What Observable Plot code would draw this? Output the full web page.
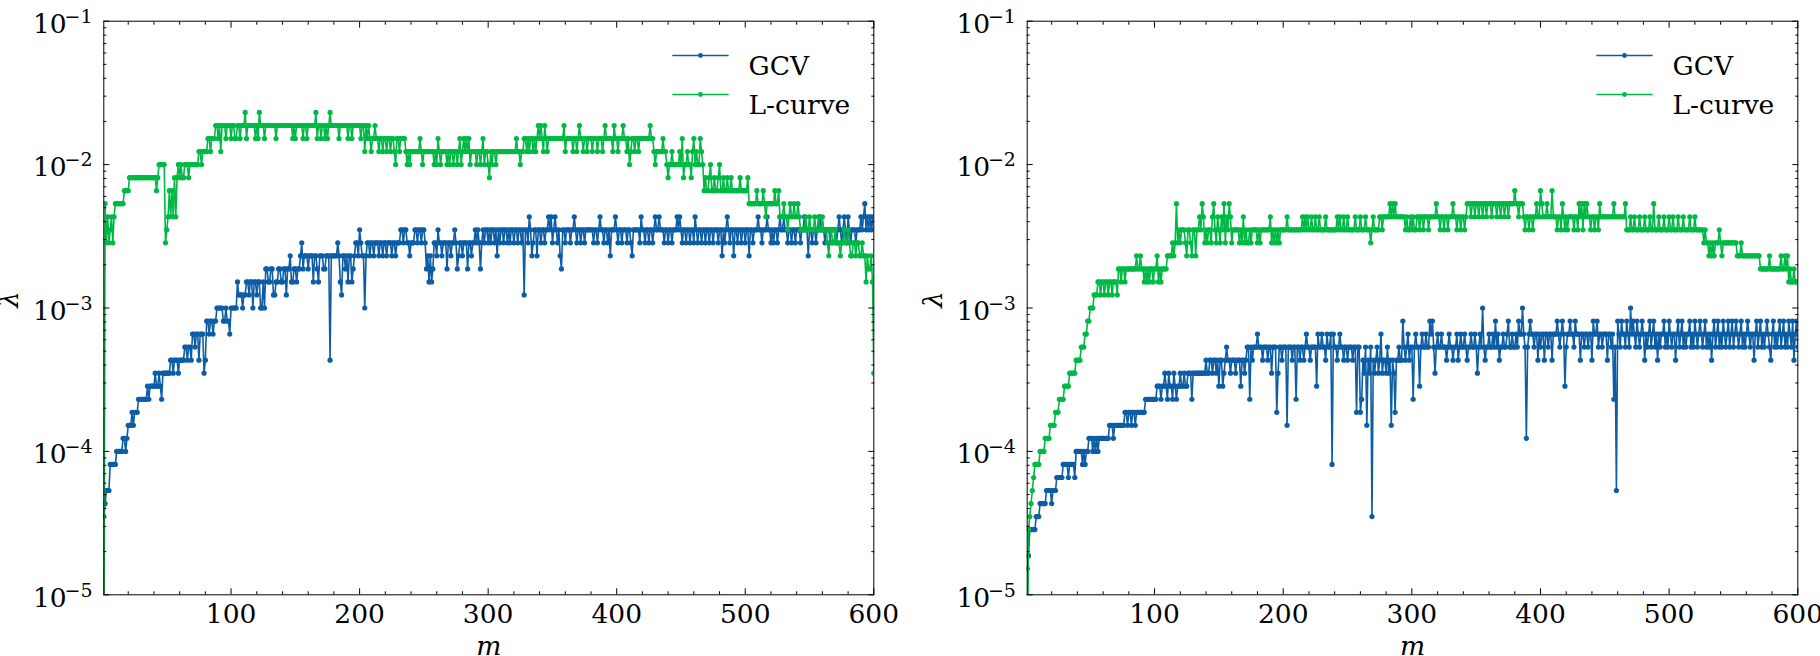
<!DOCTYPE html>
<html>
<head>
<meta charset="utf-8">
<script src="https://cdn.jsdelivr.net/npm/d3@7"></script>
<script src="https://cdn.jsdelivr.net/npm/@observablehq/plot@0.6"></script>
<style>
  html, body { margin: 0; padding: 0; background: #fff; }
  #figure { position: relative; width: 1820px; height: 656px; overflow: hidden; background: #fff; }
  .panel { position: absolute; top: 0; }
</style>
</head>
<body>
<div id="figure"></div>
<script>
// Regularisation parameter λ chosen by GCV and by the L-curve for m = 1..600 samples.
// Every chosen λ sits on the same logarithmic grid (11 values per decade).
const mCount = 600;
const lambdaLevels = [
  1.000e-5, 1.233e-5, 1.520e-5, 1.874e-5, 2.310e-5, 2.848e-5, 3.511e-5, 4.329e-5, 5.337e-5, 6.579e-5, 8.111e-5,
  1.000e-4, 1.233e-4, 1.520e-4, 1.874e-4, 2.310e-4, 2.848e-4, 3.511e-4, 4.329e-4, 5.337e-4, 6.579e-4, 8.111e-4,
  1.000e-3, 1.233e-3, 1.520e-3, 1.874e-3, 2.310e-3, 2.848e-3, 3.511e-3, 4.329e-3, 5.337e-3, 6.579e-3, 8.111e-3,
  1.000e-2, 1.233e-2, 1.520e-2, 1.874e-2, 2.310e-2, 2.848e-2, 3.511e-2, 4.329e-2, 5.337e-2, 6.579e-2, 8.111e-2,
  1.000e-1
];
// the L-curve pick for m = 1 falls below the plotted range
const belowRange = 1e-6;

// Each series: [m where a new value starts, index into lambdaLevels]
const gcvLeftSteps = [[1,6],[2,7],[3,8],[6,10],[11,11],[16,12],[18,11],[19,12],[20,13],[23,14],[24,13],[25,14],[28,15],[35,16],[36,15],[37,16],[41,17],[42,16],[44,17],[45,16],[46,15],[47,17],[53,18],[55,17],[56,18],[59,17],[60,18],[64,19],[66,18],[67,19],[69,18],[70,20],[72,19],[73,20],[75,18],[76,20],[79,17],[80,18],[81,21],[83,20],[84,21],[86,20],[87,21],[89,22],[94,21],[96,22],[97,21],[99,20],[100,22],[105,24],[106,23],[109,22],[110,23],[112,24],[114,23],[115,24],[117,22],[118,24],[120,23],[121,24],[123,22],[125,24],[126,22],[127,25],[129,24],[131,25],[133,23],[135,24],[137,25],[139,24],[141,25],[143,23],[144,25],[146,26],[147,24],[149,25],[151,24],[152,25],[154,26],[155,27],[156,25],[157,26],[160,25],[161,26],[164,24],[165,26],[167,25],[168,24],[169,26],[172,25],[174,26],[177,18],[178,26],[183,27],[184,26],[185,24],[186,23],[187,26],[189,25],[190,26],[191,24],[192,26],[194,24],[195,25],[196,26],[197,27],[199,26],[200,28],[201,27],[202,26],[204,22],[205,26],[206,27],[208,26],[209,27],[211,26],[212,27],[215,26],[216,27],[218,26],[219,27],[221,26],[222,27],[225,26],[226,27],[228,26],[229,27],[232,28],[234,27],[235,28],[237,27],[239,26],[240,27],[243,28],[245,27],[246,28],[248,27],[249,28],[251,27],[252,25],[253,26],[254,24],[255,26],[256,24],[257,25],[258,27],[260,26],[261,28],[262,27],[264,26],[265,27],[268,25],[269,27],[271,26],[272,27],[274,28],[275,27],[276,25],[277,26],[278,27],[280,26],[281,27],[284,25],[285,27],[287,26],[288,27],[290,28],[291,27],[292,28],[293,27],[294,25],[295,27],[296,28],[297,27],[298,28],[300,27],[301,28],[302,27],[303,28],[305,27],[306,28],[307,26],[308,28],[309,27],[310,28],[312,27],[313,28],[315,27],[316,28],[317,27],[318,28],[320,27],[321,28],[323,27],[324,28],[326,27],[327,28],[328,23],[329,28],[331,27],[332,29],[333,28],[334,26],[335,27],[336,28],[338,26],[339,28],[341,27],[342,28],[344,27],[345,28],[347,29],[348,28],[349,29],[350,27],[351,28],[352,29],[353,28],[354,27],[355,28],[356,26],[357,25],[358,28],[360,27],[361,28],[364,27],[365,28],[367,29],[368,28],[369,27],[370,28],[372,27],[373,28],[375,27],[376,28],[382,27],[383,28],[385,27],[386,28],[387,29],[388,28],[390,27],[391,28],[393,27],[394,28],[395,26],[396,28],[399,29],[400,28],[401,27],[402,28],[404,27],[405,28],[408,27],[409,28],[411,27],[412,26],[413,28],[418,27],[419,29],[420,28],[422,27],[423,28],[425,27],[426,28],[428,27],[429,28],[430,29],[431,28],[433,29],[434,28],[437,27],[438,28],[440,27],[441,28],[443,27],[444,28],[447,29],[448,28],[449,29],[450,28],[451,27],[452,28],[454,27],[455,28],[457,27],[458,28],[460,27],[461,29],[462,28],[463,27],[464,28],[466,27],[467,28],[469,27],[470,28],[472,27],[473,28],[475,27],[476,28],[479,27],[480,28],[482,26],[483,28],[484,27],[485,28],[486,29],[487,28],[488,27],[489,28],[491,26],[492,28],[494,27],[495,28],[497,27],[498,28],[500,27],[501,28],[503,26],[504,28],[506,27],[507,28],[510,29],[511,28],[513,27],[514,28],[517,29],[518,28],[520,27],[521,28],[522,27],[523,28],[525,27],[526,28],[527,29],[528,28],[530,29],[531,28],[533,27],[534,28],[536,27],[537,28],[539,27],[540,28],[543,27],[544,28],[546,29],[547,28],[549,26],[550,28],[552,27],[553,28],[555,27],[556,28],[558,29],[559,28],[562,27],[563,28],[566,27],[567,28],[571,27],[572,28],[573,29],[574,28],[575,27],[576,28],[577,29],[578,28],[579,27],[580,29],[581,28],[582,27],[583,28],[586,27],[587,28],[590,29],[591,28],[592,29],[593,30],[594,28],[595,29],[596,28],[597,29],[598,28],[599,29],[600,28]];

const lcurveLeftSteps = [[1,null],[2,30],[3,27],[4,29],[5,27],[6,28],[7,29],[8,27],[9,29],[10,30],[17,31],[21,32],[42,31],[43,32],[44,33],[49,27],[50,28],[51,29],[52,31],[53,29],[54,31],[55,29],[56,32],[57,29],[58,32],[59,33],[60,32],[61,33],[62,32],[64,33],[67,32],[68,33],[75,34],[77,33],[78,34],[82,35],[84,34],[85,35],[88,36],[90,35],[91,36],[92,34],[93,36],[96,35],[97,36],[100,35],[101,36],[103,35],[105,36],[107,35],[108,36],[111,37],[112,35],[113,36],[119,35],[120,36],[121,35],[122,37],[123,36],[126,35],[127,36],[135,35],[136,36],[148,35],[149,36],[150,35],[151,36],[156,35],[157,36],[159,35],[160,36],[166,37],[167,35],[168,36],[170,35],[171,36],[173,35],[174,36],[175,35],[176,36],[177,37],[178,36],[184,35],[185,36],[191,35],[192,36],[194,35],[195,36],[201,35],[202,36],[204,34],[205,36],[206,35],[207,36],[208,35],[209,34],[210,35],[212,36],[213,35],[215,34],[216,35],[218,34],[219,35],[221,34],[222,35],[224,34],[225,35],[227,34],[228,33],[229,35],[231,34],[232,35],[236,34],[237,33],[238,34],[239,33],[240,34],[247,35],[248,34],[249,33],[250,34],[258,33],[259,34],[260,33],[261,35],[262,34],[263,33],[264,34],[268,33],[269,34],[270,33],[271,34],[273,33],[274,34],[276,33],[277,34],[278,35],[279,33],[280,34],[281,35],[282,34],[283,35],[284,34],[285,35],[286,33],[287,34],[291,33],[292,34],[294,33],[295,34],[296,35],[297,33],[298,34],[300,33],[301,32],[302,34],[303,33],[304,34],[306,33],[307,34],[322,35],[323,34],[325,33],[326,34],[328,35],[330,34],[331,35],[332,34],[333,35],[335,34],[336,35],[337,34],[338,35],[339,36],[340,35],[341,36],[342,35],[343,34],[344,36],[345,35],[346,34],[347,35],[359,36],[360,34],[361,35],[366,34],[367,35],[369,34],[370,35],[371,36],[372,35],[374,34],[375,35],[377,34],[378,35],[381,34],[382,35],[385,34],[386,35],[389,34],[390,35],[391,36],[392,35],[397,34],[398,36],[399,35],[401,34],[402,35],[405,36],[406,35],[408,34],[409,35],[410,33],[411,34],[412,35],[414,34],[415,35],[417,34],[418,35],[426,36],[427,35],[429,34],[430,33],[431,34],[436,35],[437,34],[439,33],[440,32],[441,33],[443,34],[444,33],[449,34],[450,33],[451,35],[452,32],[453,33],[455,34],[456,33],[458,32],[459,34],[460,35],[461,33],[462,34],[463,33],[465,35],[466,34],[467,33],[468,31],[469,32],[470,31],[472,32],[473,33],[474,31],[476,32],[477,31],[479,32],[480,33],[481,31],[483,32],[484,31],[486,32],[487,31],[489,32],[490,31],[496,32],[497,31],[502,32],[503,30],[509,31],[510,30],[514,31],[515,30],[516,29],[517,30],[523,31],[524,30],[526,31],[527,29],[530,30],[531,29],[533,28],[534,29],[535,30],[536,29],[538,30],[539,29],[541,30],[542,29],[543,28],[547,29],[548,28],[550,29],[551,28],[554,29],[555,28],[557,29],[558,28],[560,29],[561,28],[564,27],[565,26],[566,28],[568,27],[570,28],[571,27],[574,26],[575,27],[577,28],[578,27],[580,28],[581,27],[582,26],[584,27],[586,26],[587,27],[589,26],[591,27],[592,26],[594,24],[595,26],[596,25],[598,26],[599,24],[600,17]];

const gcvRightSteps = [[1,2],[2,3],[3,5],[8,6],[11,7],[16,8],[20,7],[21,8],[24,9],[29,10],[33,9],[34,10],[38,9],[39,11],[44,10],[45,11],[46,10],[47,11],[49,12],[52,11],[53,12],[54,11],[55,12],[56,11],[57,12],[65,13],[68,12],[69,13],[77,14],[79,13],[80,14],[82,13],[83,14],[85,13],[86,14],[93,15],[102,16],[105,15],[106,16],[108,17],[109,16],[110,15],[111,17],[112,16],[114,15],[115,17],[116,16],[117,15],[118,16],[120,17],[121,16],[123,17],[124,16],[126,17],[129,15],[130,17],[140,18],[141,17],[143,18],[145,17],[146,18],[148,17],[149,18],[150,16],[151,18],[153,16],[154,17],[155,18],[156,19],[157,18],[159,17],[160,18],[163,17],[164,18],[167,16],[168,18],[170,17],[171,18],[172,19],[174,15],[175,19],[176,18],[177,19],[180,20],[181,19],[184,18],[185,19],[188,18],[189,19],[191,17],[192,19],[195,14],[196,17],[197,19],[199,18],[200,19],[203,13],[204,19],[207,18],[208,19],[210,15],[211,19],[213,18],[214,19],[216,18],[217,19],[218,20],[219,19],[221,18],[222,19],[226,16],[227,20],[228,19],[230,20],[231,19],[233,18],[234,20],[235,19],[237,20],[238,10],[239,20],[240,19],[242,18],[243,19],[244,20],[245,19],[247,18],[248,19],[250,18],[251,19],[254,18],[255,19],[257,14],[258,19],[260,14],[261,15],[262,18],[263,17],[264,19],[265,13],[266,18],[267,17],[268,19],[269,6],[270,18],[271,17],[272,18],[273,19],[274,17],[275,18],[276,20],[277,17],[278,18],[280,17],[281,19],[282,17],[283,18],[284,13],[285,18],[286,17],[287,14],[288,18],[290,19],[291,18],[293,21],[294,19],[295,18],[296,19],[297,20],[298,18],[299,19],[301,15],[302,19],[303,20],[304,19],[306,16],[307,19],[308,20],[309,19],[311,20],[312,19],[314,21],[315,20],[316,21],[317,19],[318,17],[319,19],[320,20],[321,19],[323,20],[324,19],[327,18],[328,19],[329,20],[330,19],[332,18],[333,19],[335,20],[336,18],[337,19],[338,20],[339,19],[341,20],[342,19],[343,18],[344,19],[346,20],[347,19],[349,20],[350,19],[351,17],[352,19],[353,20],[354,19],[355,22],[356,19],[357,18],[358,19],[360,20],[361,19],[363,20],[364,19],[365,21],[366,19],[367,20],[368,18],[369,19],[371,20],[372,19],[374,20],[375,21],[376,19],[378,20],[379,19],[381,20],[382,19],[383,21],[384,20],[386,22],[387,20],[388,19],[389,12],[390,19],[391,20],[392,21],[393,20],[395,19],[396,20],[398,18],[399,20],[400,19],[401,20],[403,18],[404,20],[406,19],[407,20],[409,18],[410,20],[413,21],[414,20],[415,19],[416,20],[417,21],[418,20],[419,16],[420,19],[421,20],[423,21],[424,20],[426,19],[427,21],[428,20],[431,18],[432,20],[434,19],[435,20],[437,19],[438,20],[440,18],[441,21],[442,20],[444,21],[445,19],[446,20],[448,19],[449,20],[452,18],[453,20],[455,19],[456,20],[457,15],[458,19],[459,8],[460,21],[461,20],[462,19],[463,21],[464,20],[466,19],[467,21],[468,20],[469,19],[470,22],[471,20],[472,21],[473,20],[474,19],[475,21],[476,20],[477,19],[478,20],[479,21],[480,20],[481,18],[482,20],[483,19],[484,20],[485,21],[486,19],[487,20],[488,21],[489,19],[490,20],[491,18],[492,20],[493,19],[494,20],[496,21],[497,19],[498,20],[499,19],[500,21],[501,20],[502,19],[503,20],[505,18],[506,20],[507,21],[508,19],[509,20],[510,21],[511,19],[512,20],[513,19],[514,20],[516,21],[517,19],[518,20],[519,19],[520,21],[521,20],[522,19],[523,20],[524,21],[525,20],[526,19],[527,20],[528,21],[529,19],[530,20],[531,19],[532,20],[533,18],[534,20],[535,21],[536,19],[537,20],[538,21],[539,19],[540,20],[541,19],[542,21],[543,20],[544,19],[545,20],[546,21],[547,19],[548,20],[549,21],[550,19],[551,20],[552,21],[553,20],[554,19],[555,20],[556,21],[557,19],[558,20],[559,19],[560,20],[561,21],[562,20],[563,19],[564,20],[566,18],[567,20],[568,21],[569,19],[570,20],[571,21],[572,19],[573,20],[574,19],[575,20],[576,21],[577,20],[578,19],[579,18],[580,20],[581,21],[582,19],[583,20],[584,19],[585,20],[586,21],[587,19],[588,20],[589,21],[590,19],[591,20],[592,19],[593,21],[594,20],[595,19],[596,21],[597,18],[598,20],[599,21],[600,19]];

const lcurveRightSteps = [[1,null],[2,5],[3,6],[4,7],[5,8],[6,9],[7,10],[11,11],[15,12],[19,13],[23,14],[26,15],[30,16],[34,17],[39,18],[43,19],[46,20],[48,21],[50,22],[53,23],[56,24],[58,23],[59,24],[61,23],[62,24],[64,23],[65,24],[67,23],[68,24],[71,23],[72,25],[74,24],[75,25],[77,24],[78,25],[86,26],[87,25],[89,26],[90,25],[92,24],[93,25],[94,24],[95,25],[96,24],[97,25],[99,24],[100,25],[102,26],[103,24],[104,25],[105,24],[106,25],[110,26],[114,27],[115,26],[116,27],[117,30],[118,27],[119,28],[120,27],[121,28],[124,27],[125,26],[126,28],[128,27],[129,26],[130,28],[132,26],[133,28],[135,29],[136,28],[137,30],[138,29],[139,27],[140,28],[141,27],[142,28],[144,27],[145,29],[146,30],[147,28],[148,27],[149,29],[150,28],[151,27],[152,29],[153,28],[154,30],[155,27],[156,29],[157,28],[158,30],[159,29],[160,27],[161,28],[166,27],[167,28],[168,27],[169,29],[170,27],[171,28],[172,27],[174,28],[175,27],[176,28],[180,27],[181,28],[182,27],[183,28],[190,29],[191,27],[192,28],[193,27],[194,28],[195,27],[196,28],[197,27],[198,28],[203,29],[204,28],[215,29],[216,28],[217,29],[218,28],[219,29],[220,28],[222,29],[223,28],[225,29],[226,28],[228,29],[229,28],[233,29],[234,28],[242,29],[243,28],[244,29],[245,28],[247,29],[248,28],[250,29],[251,28],[256,29],[257,28],[260,29],[261,28],[264,29],[265,28],[268,27],[269,28],[270,29],[271,28],[275,29],[277,28],[278,29],[283,30],[284,29],[285,30],[286,29],[287,30],[288,29],[295,28],[296,29],[297,28],[299,29],[300,28],[301,29],[302,28],[304,29],[306,28],[307,29],[309,28],[310,29],[313,28],[314,29],[319,30],[320,29],[322,28],[323,29],[325,28],[326,29],[328,28],[329,29],[332,30],[333,29],[335,28],[336,29],[338,28],[339,29],[341,28],[342,29],[343,30],[346,29],[347,30],[349,29],[350,30],[352,29],[353,30],[355,29],[356,30],[358,29],[359,30],[362,29],[363,30],[366,29],[367,30],[369,29],[370,30],[372,29],[373,30],[375,29],[376,30],[380,31],[381,30],[383,29],[384,30],[387,29],[388,28],[389,29],[391,28],[392,29],[394,28],[395,29],[397,30],[398,29],[400,31],[401,30],[402,29],[405,30],[406,29],[409,31],[410,29],[413,28],[414,29],[416,28],[417,30],[418,29],[419,28],[420,29],[421,28],[422,29],[426,28],[427,29],[429,28],[430,30],[431,29],[432,30],[433,28],[434,30],[435,29],[436,30],[437,29],[439,28],[440,29],[442,28],[443,29],[445,28],[446,30],[447,29],[457,30],[458,29],[466,30],[467,28],[470,29],[471,28],[473,29],[474,28],[477,29],[478,28],[481,29],[482,28],[485,29],[486,28],[488,30],[489,28],[492,29],[493,28],[496,29],[497,28],[500,29],[501,28],[503,29],[504,28],[507,29],[508,28],[511,29],[512,28],[516,29],[517,28],[520,29],[521,28],[527,27],[528,28],[529,27],[531,26],[532,27],[533,26],[534,27],[535,26],[536,27],[539,28],[540,27],[541,26],[542,27],[553,26],[556,27],[557,26],[571,25],[578,26],[579,25],[587,26],[588,25],[590,26],[591,25],[592,26],[593,24],[594,25],[595,24],[597,25],[598,24]];

const seriesNames = ["GCV", "L-curve"];
const seriesColors = ["#0C5DA5", "#00B945"];

const xMajorTicks = [100, 200, 300, 400, 500, 600];
const xMinorTicks = [20, 40, 60, 80, 120, 140, 160, 180, 220, 240, 260, 280, 320, 340, 360, 380, 420, 440, 460, 480, 520, 540, 560, 580];
const yDecades = [1e-5, 1e-4, 1e-3, 1e-2, 1e-1];
const yExponents = ["−5", "−4", "−3", "−2", "−1"];
const yMinorTicks = [];
for (const d of [1e-5, 1e-4, 1e-3, 1e-2]) for (const f of [2, 3, 4, 5, 6, 7, 8, 9]) yMinorTicks.push(f * d);
const exponentOf = new Map(yDecades.map((d, i) => [d, yExponents[i]]));

// one record per m, holding the λ that applies from the latest step at or before m
function expandSteps(steps) {
  const rows = [];
  let j = 0;
  for (let m = 1; m <= mCount; m++) {
    while (j + 1 < steps.length && steps[j + 1][0] <= m) j++;
    const k = steps[j][1];
    rows.push({m, lambda: k === null ? belowRange : lambdaLevels[k]});
  }
  return rows;
}

const lineShape = {draw(context, l) { context.moveTo(0, 0); context.lineTo(0, -l); }};
const FONT = "DejaVu Serif";
const FS = 26.5;

function panel(gcvSteps, lcurveSteps, marginLeft, marginRight) {
  const series = [expandSteps(gcvSteps), expandSteps(lcurveSteps)];
  const marks = [];
  series.forEach((rows, i) => {
    marks.push(Plot.line(rows, {x: "m", y: "lambda", stroke: seriesColors[i], strokeWidth: 1.6, clip: true}));
    marks.push(Plot.dot(rows, {x: "m", y: "lambda", r: 2.6, fill: seriesColors[i], stroke: "none", clip: true}));
  });
  // legend in the upper-right corner
  seriesNames.forEach((name, i) => {
    const dy = 34.3 + 39 * i;
    marks.push(Plot.vector([name], {frameAnchor: "top-right", dx: -173.3, dy, length: 55, rotate: 90, anchor: "middle", shape: lineShape, stroke: seriesColors[i], strokeWidth: 1.6}));
    marks.push(Plot.dot([name], {frameAnchor: "top-right", dx: -173.3, dy, r: 2.4, fill: seriesColors[i], stroke: "none"}));
    marks.push(Plot.text([name], {frameAnchor: "top-right", dx: -125.3, dy: dy + 1, text: d => d, textAnchor: "start", fontSize: FS, fill: "black"}));
  });
  marks.push(
    Plot.frame({stroke: "black", strokeWidth: 1}),
    // inward ticks on all four sides
    Plot.axisX({ticks: xMajorTicks, anchor: "bottom", tickSize: -6, fill: "none", label: null}),
    Plot.axisX({ticks: xMajorTicks, anchor: "top", tickSize: -6, fill: "none", label: null}),
    Plot.axisX({ticks: xMinorTicks, anchor: "bottom", tickSize: -3, fill: "none", label: null}),
    Plot.axisX({ticks: xMinorTicks, anchor: "top", tickSize: -3, fill: "none", label: null}),
    Plot.axisY({ticks: yDecades, anchor: "left", tickSize: -6, fill: "none", label: null}),
    Plot.axisY({ticks: yDecades, anchor: "right", tickSize: -6, fill: "none", label: null}),
    Plot.axisY({ticks: yMinorTicks, anchor: "left", tickSize: -3, fill: "none", label: null}),
    Plot.axisY({ticks: yMinorTicks, anchor: "right", tickSize: -3, fill: "none", label: null}),
    // x tick labels
    Plot.axisX({ticks: xMajorTicks, anchor: "bottom", tickSize: 0, tickPadding: 9.6, tickFormat: d => String(d), fontSize: FS, label: null}),
    // y tick labels: 10 with a raised exponent, both set from their left edge
    Plot.axisY({ticks: yDecades, anchor: "left", tickSize: 0, tickPadding: 70.8, tickFormat: () => "10", textAnchor: "start", lineAnchor: "bottom", dy: 11.7, fontSize: FS, label: null}),
    Plot.axisY({ticks: yDecades, anchor: "left", tickSize: 0, tickPadding: 39.3, tickFormat: d => exponentOf.get(d), textAnchor: "start", lineAnchor: "bottom", dy: 1.7, fontSize: 19, label: null}),
    // axis titles
    Plot.text(["m"], {frameAnchor: "bottom", dy: 60.5, text: d => d, lineAnchor: "bottom", fontStyle: "italic", fontSize: FS, fill: "black"}),
    Plot.text(["λ"], {frameAnchor: "left", dx: -94, text: d => d, rotate: -90, fontStyle: "italic", fontSize: FS, fill: "black"})
  );
  return Plot.plot({
    width: 910,
    height: 656,
    marginLeft,
    marginRight,
    marginTop: 20.7,
    marginBottom: 61.7,
    style: {fontFamily: FONT, fontSize: FS + "px", color: "black", background: "white", overflow: "visible"},
    x: {domain: [1, mCount]},
    y: {type: "log", domain: [1e-5, 1e-1]},
    marks
  });
}

const figure = document.getElementById("figure");
const left = panel(gcvLeftSteps, lcurveLeftSteps, 103.3, 36.7);
left.classList.add("panel");
left.style.left = "0px";
figure.appendChild(left);
const right = panel(gcvRightSteps, lcurveRightSteps, 116.7, 22.7);
right.classList.add("panel");
right.style.left = "910px";
figure.appendChild(right);
</script>
</body>
</html>
